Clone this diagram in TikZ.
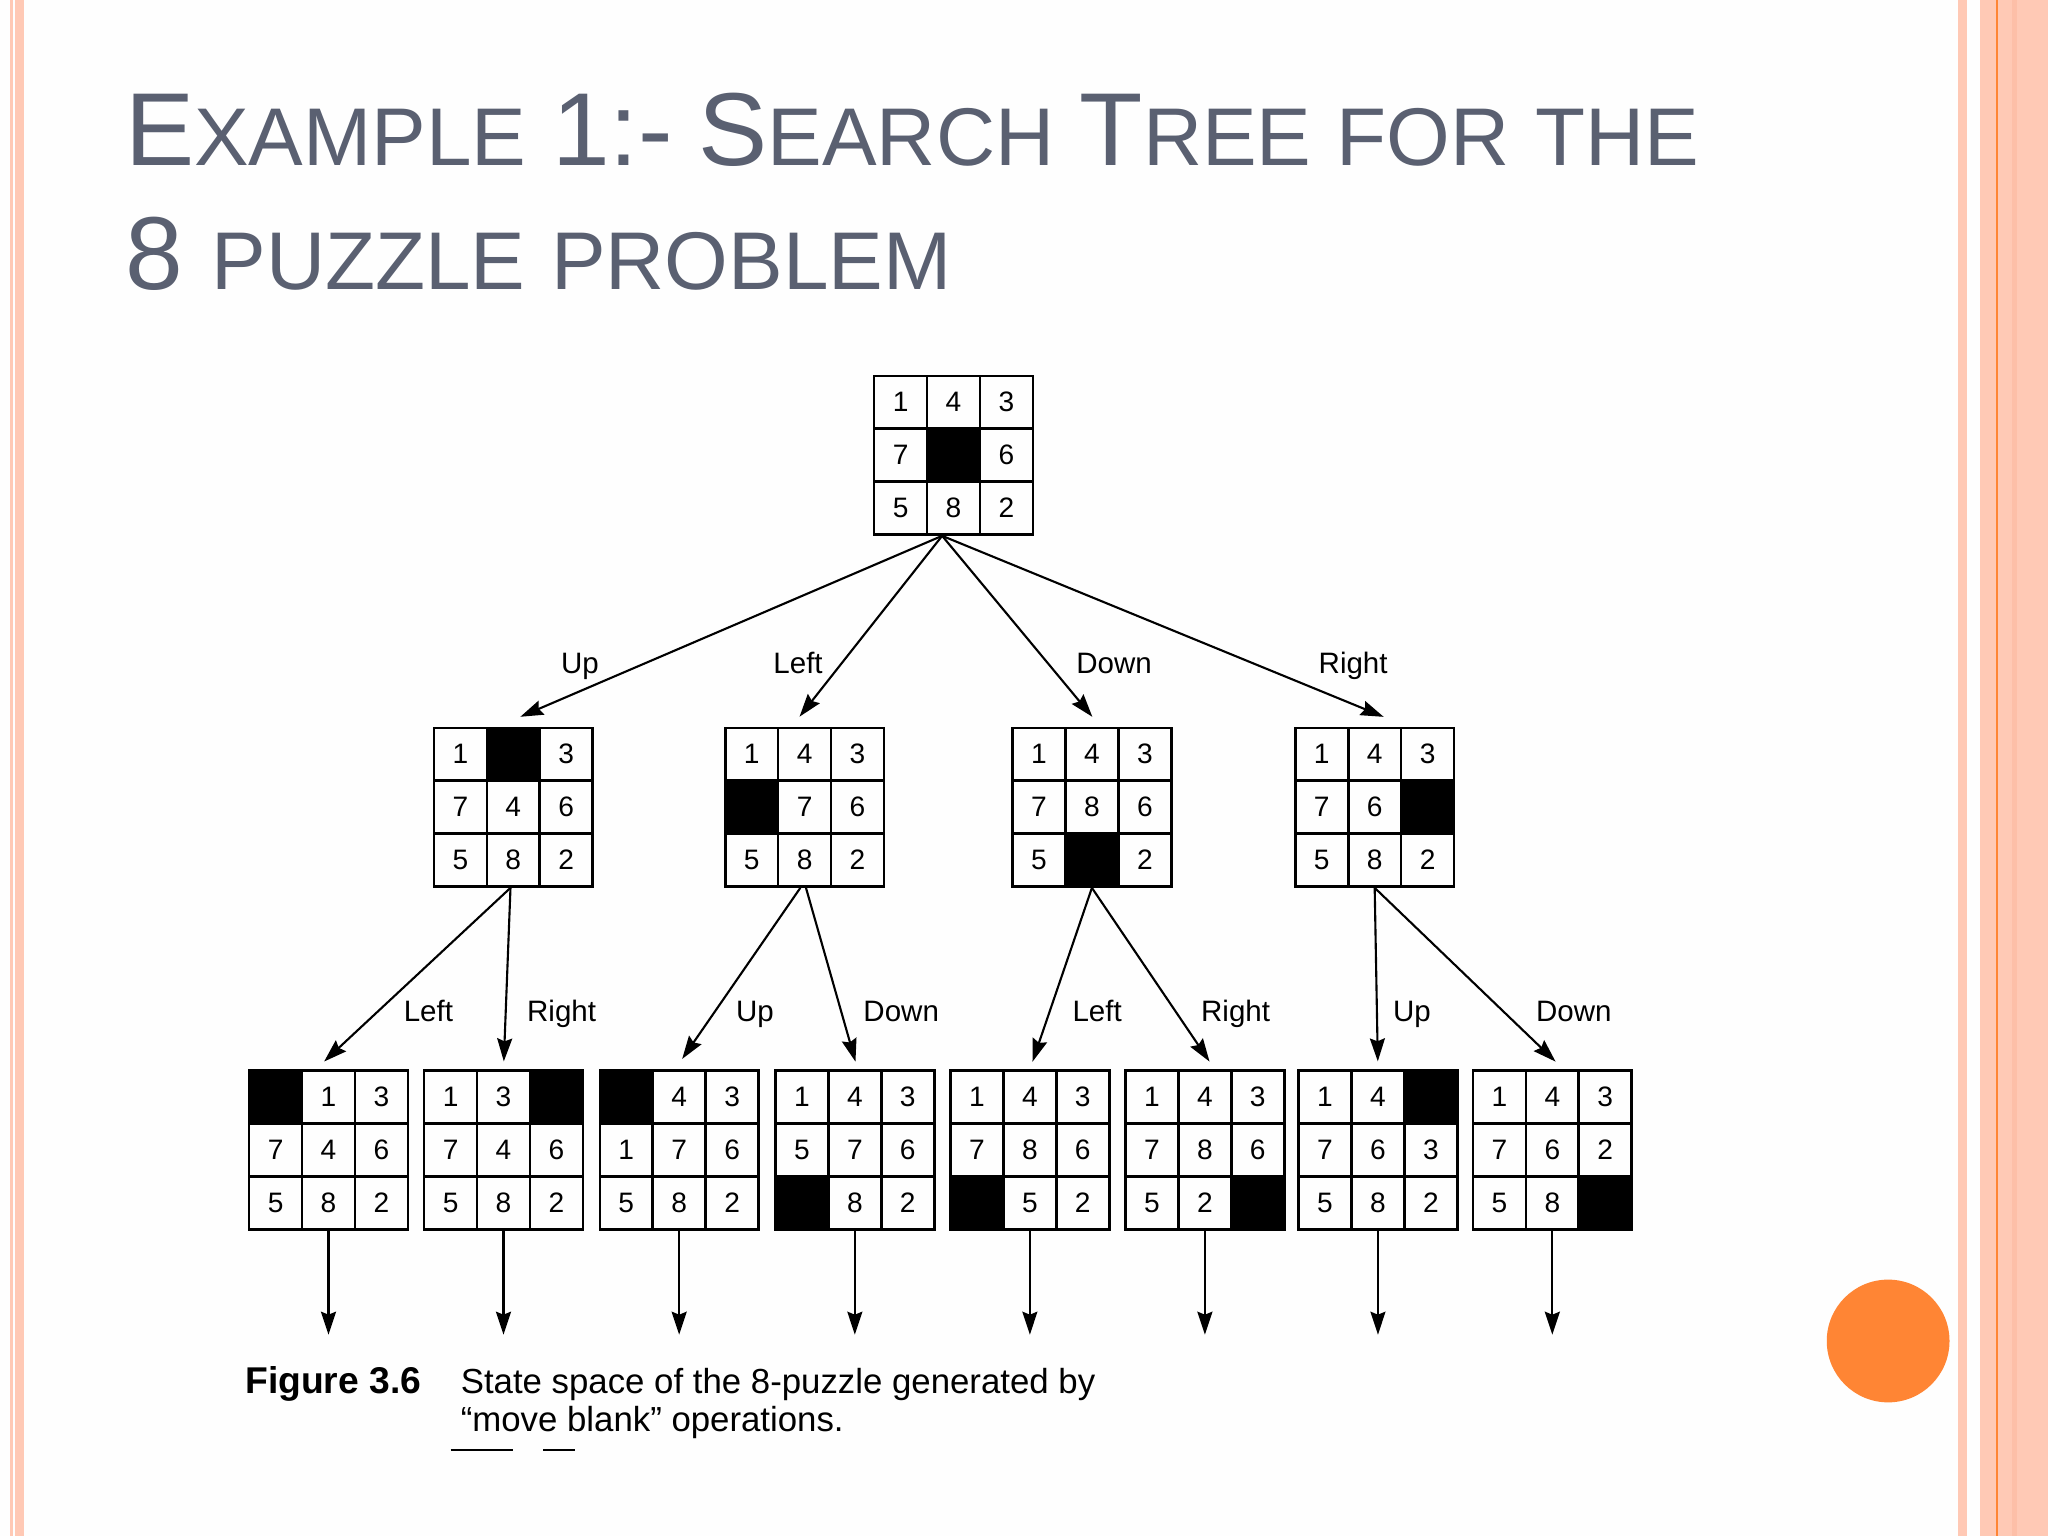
\documentclass[tikz,border=0pt]{standalone}
\usepackage{fontspec}
\setmainfont{Liberation Sans}
\usetikzlibrary{%
  arrows.meta,%
  matrix,%
  positioning%
}
\definecolor{stripe}{HTML}{FFC9B5}
\definecolor{stripedark}{HTML}{FDBFA8}
\definecolor{accent}{HTML}{FF8534}
\definecolor{titlegray}{HTML}{5A6071}
\newcommand{\tbig}{\fontsize{29.5}{32}\selectfont}
\newcommand{\tsmall}{\fontsize{23.3}{32}\selectfont\spaceskip=7.25pt}

\begin{document}
\begin{tikzpicture}[
  x=0.013061cm,
  y=-0.013061cm,
  font=\fontsize{8}{10}\selectfont,
  >={Stealth[length=0.23cm,width=0.15cm,inset=0.03cm]},
  line width=0.6pt,
  board/.style={
    matrix of nodes,
    nodes in empty cells,
    inner sep=0pt,
    outer sep=0pt,
    row sep=-0.75pt,
    column sep=-0.75pt,
    nodes={draw,anchor=center,minimum size=0.529cm,inner sep=0pt,outer sep=0pt,line width=0.75pt},
  },
  blank/.style={fill=black},
  move/.style={->,shorten >=#1},
  movelabel/.style={anchor=base,inner sep=0pt,font=\fontsize{8.4}{10}\selectfont},
  titleline/.style={anchor=base west,text=titlegray,inner sep=0pt},
  captionline/.style={anchor=base west,inner sep=0pt,font=\fontsize{9.9}{11}\selectfont},
]

\useasboundingbox (0,0) rectangle (1568,1176);
\fill[white!99.5!black] (0,0) rectangle (1568,1176);

% side stripes
\fill[stripe] (7.7,0) rectangle (10,1176);
\fill[stripe] (11.5,0) rectangle (18.4,1176);
\fill[stripe] (1499.1,0) rectangle (1505.6,1176);
\fill[stripe] (1516,0) rectangle (1568,1176);
\fill[stripedark] (1540.4,0) rectangle (1544.2,1176);
\fill[accent] (1528.3,0) rectangle (1530,1176);
\fill[accent] (1445.6,1026.7) circle (47);

\node[titleline] (title1) at (95,127) {\tbig E\tsmall XAMPLE \tbig 1:- S\tsmall EARCH \tbig T\tsmall REE FOR THE};
\node[titleline] (title2) at (95,222) {\tbig 8 \tsmall PUZZLE PROBLEM};

\matrix[board] (root) at (730,348.5) {1 & 4 & 3\\ 7 & |[blank]| & 6\\ 5 & 8 & 2\\};

\matrix[board] (up) at (393,618) {1 & |[blank]| & 3\\ 7 & 4 & 6\\ 5 & 8 & 2\\};
\matrix[board] (left) at (616,618) {1 & 4 & 3\\ |[blank]| & 7 & 6\\ 5 & 8 & 2\\};
\matrix[board] (down) at (836,618) {1 & 4 & 3\\ 7 & 8 & 6\\ 5 & |[blank]| & 2\\};
\matrix[board] (right) at (1052.5,618) {1 & 4 & 3\\ 7 & 6 & |[blank]|\\ 5 & 8 & 2\\};

\matrix[board] (upleft) at (251.5,880.5) {|[blank]| & 1 & 3\\ 7 & 4 & 6\\ 5 & 8 & 2\\};
\matrix[board] (upright) at (385.5,880.5) {1 & 3 & |[blank]|\\ 7 & 4 & 6\\ 5 & 8 & 2\\};
\matrix[board] (leftup) at (520,880.5) {|[blank]| & 4 & 3\\ 1 & 7 & 6\\ 5 & 8 & 2\\};
\matrix[board] (leftdown) at (654.5,880.5) {1 & 4 & 3\\ 5 & 7 & 6\\ |[blank]| & 8 & 2\\};
\matrix[board] (downleft) at (788.5,880.5) {1 & 4 & 3\\ 7 & 8 & 6\\ |[blank]| & 5 & 2\\};
\matrix[board] (downright) at (922.5,880.5) {1 & 4 & 3\\ 7 & 8 & 6\\ 5 & 2 & |[blank]|\\};
\matrix[board] (rightup) at (1055,880.5) {1 & 4 & |[blank]|\\ 7 & 6 & 3\\ 5 & 8 & 2\\};
\matrix[board] (rightdown) at (1188.5,880.5) {1 & 4 & 3\\ 7 & 6 & 2\\ 5 & 8 & |[blank]|\\};

\draw[move=0.247cm] (root.262) -- (up.101.6);
\draw[move=0.125cm] (root.262) -- (left.99.3);
\draw[move=0.126cm] (root.262) -- (down.84.2);
\draw[move=0.255cm] (root.262) -- (right.68.8);

\draw[move=0.115cm] (up.268) -- (upleft.99.3);
\draw[move=0.08cm] (up.268) -- (upright.north);
\draw[move=0.127cm] (left.267) -- (leftup.93.3);
\draw[move=0.08cm] (left.271) -- (leftdown.88);
\draw[move=0.08cm] (down.south) -- (downleft.north);
\draw[move=0.094cm] (down.south) -- (downright.83.9);
\draw[move=0.08cm] (right.south) -- (rightup.north);
\draw[move=0.112cm] (right.south) -- (rightdown.82.9);

\foreach \b in {upleft,upright,leftup,leftdown,downleft,downright,rightup,rightdown} {
  \coordinate (\b-end) at ([yshift=-1.04cm]\b.south);
  \draw[->] (\b.south) -- (\b-end);
}

\node[movelabel] (lup) at (444,516) {Up};
\node[movelabel] (lleft) at (611,516) {Left};
\node[movelabel] (ldown) at (853,516) {Down};
\node[movelabel] (lright) at (1036,516) {Right};

\node[movelabel] (lupleft) at (328,782) {Left};
\node[movelabel] (lupright) at (430,782) {Right};
\node[movelabel] (lleftup) at (578,782) {Up};
\node[movelabel] (lleftdown) at (690,782) {Down};
\node[movelabel] (ldownleft) at (840,782) {Left};
\node[movelabel] (ldownright) at (946,782) {Right};
\node[movelabel] (lrightup) at (1081,782) {Up};
\node[movelabel] (lrightdown) at (1205,782) {Down};

\node[captionline,font=\fontsize{10.6}{11}\selectfont\bfseries] (figno) at (187,1067) {Figure 3.6};
\node[captionline] (cap1) at (352,1067) {State space of the 8-puzzle generated by};
\node[captionline] (cap2) at (352,1096) {“move blank” operations.};
\draw[line width=0.6pt] (345,1110) -- (393,1110);
\draw[line width=0.6pt] (416,1110) -- (440,1110);

\end{tikzpicture}
\end{document}
